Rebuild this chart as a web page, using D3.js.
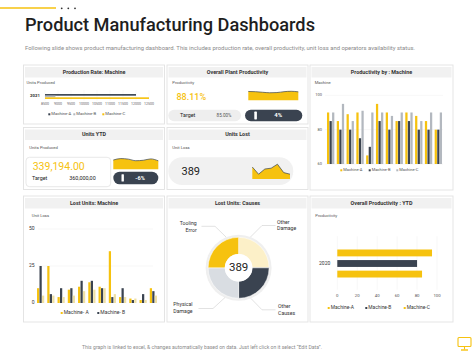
<!DOCTYPE html>
<html><head><meta charset="utf-8">
<script src="https://cdn.jsdelivr.net/npm/d3@7"></script>
<style>
html,body{margin:0;padding:0;background:#fff;}
svg{display:block;font-family:Roboto,"Liberation Sans",sans-serif;}
</style></head><body>
<svg id="c" width="474" height="355"></svg>
<script>
// ---------------- data ----------------
const titleText = "Product Manufacturing Dashboards";
const subtitleText = "Following slide shows product manufacturing dashboard. This includes production rate, overall productivity, unit loss and operators availability status.";
const footerText = "This graph is linked to excel, & changes automatically based on data. Just left click on it select \u201cEdit Data\u201d.";

const machines = ["Machine-A", "Machine-B", "Machine-C"];

const rateYear = ["2021"];
const rateValues = [12000, 8900, 12500];
const rateTicks = [8500, 9000, 9500, 10000, 10500, 11000, 11500, 12000, 12500];

const plantValue = "88.11%";
const plantTarget = "85.00%";
const plantDelta = "4%";
const plantTrend = [9.0, 8.8, 8.2, 7.7, 7.9, 8.8, 9.2, 8.6];

const ytdValue = "339,194.00";
const ytdTarget = "360,000,00";
const ytdDelta = "-6%";
const ytdTrend = [8.2, 9.5, 9.0, 7.6, 8.0, 9.2, 7.5];

const lostTotal = "389";
const lostTrend = [15, 6, 12.5, 13.5, 18.5, 8, 6];

const groups = ["1", "2", "3", "4", "5", "6", "7", "8", "9", "10", "11", "12"];
const prodA = [90, 85, 89, 90, 65, 95, 90, 85, 90, 88, 85, 80];
const prodB = [85, 80, 80, 75, 70, 85, 80, 85, 85, 80, 80, 80];
const prodC = [90, 95, 85, 91, 90, 90, 88, 90, 90, 85, 90, 90];
const prodTicks = [60, 80, 100];

const lostA = [10, 25, 4, 9, 11, 14, 11, 35, 4, 3, 2, 10];
const lostB = [25, 6, 10, 10, 15, 15, 10, 4, 10, 2, 6, 8];
const lostC = [5, 5, 4, 5, 8, 9, 10, 6, 4, 3, 2, 5];
const lostTicks = [0, 25, 50];
const lostLegend = ["Machine- A", "Machine- B"];

const causes = ["Other Damage", "Other Causes", "Physical Damage", "Tooling Error"];
const causeValues = [25, 25, 25, 25];

const ytdYear = ["2020"];
const ytdProd = [95, 80, 85];
const ytdTicks = [0, 20, 40, 60, 80, 100];

// ---------------- styles ----------------
const YEL = "#f6c20f", DARK = "#3a4350", GRAY = "#b3b8bf", CREAM = "#fcf0c8",
      PALE = "#efe0a4", LGRAY = "#d9dde2", TXT = "#333";

const svg = d3.select("#c");

// header decoration
svg.append("line").attr("x1", 0).attr("x2", 56).attr("y1", 8).attr("y2", 8)
  .attr("stroke", YEL).attr("stroke-width", 1.6);
[61.7, 68.3, 75].forEach(x => svg.append("circle").attr("cx", x).attr("cy", 8.3).attr("r", 0.9).attr("fill", "#333"));

svg.append("text").attr("x", 25).attr("y", 30.5).text(titleText)
  .attr("font-size", 17.5).attr("font-weight", 500).attr("fill", "#1e1e1e")
  .attr("textLength", 290).attr("lengthAdjust", "spacingAndGlyphs");
svg.append("text").attr("x", 25).attr("y", 49.5).text(subtitleText)
  .attr("font-size", 5.3).attr("fill", "#8a8a8a")
  .attr("textLength", 390).attr("lengthAdjust", "spacingAndGlyphs");
svg.append("text").attr("x", 82).attr("y", 348.5).text(footerText)
  .attr("font-size", 4.8).attr("fill", "#8a8a8a")
  .attr("textLength", 240).attr("lengthAdjust", "spacingAndGlyphs");

// monitor icon
const ic = svg.append("g").attr("stroke", YEL).attr("fill", "none");
ic.append("rect").attr("x", 458).attr("y", 337.5).attr("width", 13).attr("height", 9).attr("rx", 1).attr("stroke-width", 1.1);
ic.append("line").attr("x1", 464.5).attr("x2", 464.5).attr("y1", 346.5).attr("y2", 349.5).attr("stroke-width", 1.1);
ic.append("line").attr("x1", 461).attr("x2", 468).attr("y1", 350).attr("y2", 350).attr("stroke-width", 1.4);

// panels
function panel(x, y, w, h, title) {
  svg.append("rect").attr("x", x).attr("y", y).attr("width", w).attr("height", h)
    .attr("fill", "#fff").attr("stroke", "#e2e2e2").attr("stroke-width", 0.9);
  svg.append("rect").attr("x", x + 1.5).attr("y", y + 2).attr("width", w - 3).attr("height", 10.5)
    .attr("fill", "#f1f1f1");
  svg.append("text").attr("x", x + w / 2).attr("y", y + 7.3).attr("text-anchor", "middle")
    .attr("dominant-baseline", "middle").attr("font-size", 5.4).attr("font-weight", 700)
    .attr("fill", TXT).text(title);
}
function small(x, y, t, size, anchor, color, weight) {
  return svg.append("text").attr("x", x).attr("y", y).text(t)
    .attr("font-size", size || 4.3).attr("fill", color || "#555")
    .attr("text-anchor", anchor || "start").attr("dominant-baseline", "middle")
    .attr("font-weight", weight || 400);
}
function legend(items, colors, xs, y, size, color) {
  items.forEach((t, i) => {
    svg.append("rect").attr("x", xs[i] - 1).attr("y", y - 1).attr("width", 2).attr("height", 2).attr("fill", colors[i]);
    small(xs[i] + 2, y, t, size, "start", color);
  });
}

panel(23.5, 65, 141, 59, "Production Rate: Machine");
panel(167, 65, 141, 59, "Overall Plant Productivity");
panel(310, 65, 143, 125, "Productivity by : Machine");
panel(23.5, 127.5, 141, 62, "Units YTD");
panel(167, 127.5, 141, 62, "Units Lost");
panel(23.5, 196, 141, 126, "Lost Units: Machine");
panel(167, 196, 141, 126, "Lost Units: Causes");
panel(310, 196, 143, 126, "Overall Productivity : YTD");

// ---- Production rate ----
small(26.5, 82.7, "Units Produced", 4.2);
{
  const x = d3.scaleLinear().domain([8500, 12500]).range([45, 149]);
  const y0 = d3.scaleBand().domain(rateYear).range([93.5, 99.5]).padding(0.1);
  const y1 = d3.scaleBand().domain(machines).range([0, y0.bandwidth()]);
  const cols = [DARK, GRAY, YEL];
  rateTicks.forEach(t => svg.append("line").attr("x1", x(t)).attr("x2", x(t)).attr("y1", 90).attr("y2", 101)
    .attr("stroke", "#f0f0f0").attr("stroke-width", 0.5));
  machines.forEach((m, i) => {
    svg.append("rect").attr("x", x(8500)).attr("y", y0("2021") + y1(m))
      .attr("width", x(rateValues[i]) - x(8500)).attr("height", y1.bandwidth()).attr("fill", cols[i]);
  });
  small(30, 96.3, "2021", 4.3, "start", "#333", 700);
  rateTicks.forEach(t => small(x(t), 104.3, String(t), 3.6, "middle", "#666"));
  legend(machines, cols, [49.3, 74.3, 103.3], 114.3, 4.2, "#555");
}

// ---- Overall plant productivity ----
small(172.3, 83, "Productivity", 4.2);
small(176.5, 98, plantValue, 9, "start", YEL, 500);
{
  const x = d3.scaleLinear().domain([0, plantTrend.length - 1]).range([248.3, 298.3]);
  const y = d3.scaleLinear().domain([0, 10]).range([100.3, 90.5]);
  svg.append("path").datum(plantTrend).attr("fill", YEL)
    .attr("d", d3.area().x((d, i) => x(i)).y0(y(0)).y1(d => y(d)).curve(d3.curveMonotoneX));
  svg.append("path").datum(plantTrend).attr("fill", "none").attr("stroke", DARK).attr("stroke-width", 0.7)
    .attr("d", d3.line().x((d, i) => x(i)).y(d => y(d)).curve(d3.curveMonotoneX));
}
svg.append("rect").attr("x", 168.3).attr("y", 109.7).attr("width", 72.7).attr("height", 11.6).attr("rx", 5.8).attr("fill", "#eeeeee");
small(187.7, 115.6, "Target", 5.4, "middle", "#222");
small(224, 115.6, plantTarget, 4.6, "middle", "#555");
svg.append("rect").attr("x", 245).attr("y", 109.7).attr("width", 57.3).attr("height", 11.6).attr("rx", 5.8).attr("fill", DARK);
svg.append("rect").attr("x", 254.3).attr("y", 111.6).attr("width", 2.6).attr("height", 7.8).attr("rx", 0.6).attr("fill", "#fff");
small(278.3, 115.6, plantDelta, 6, "middle", "#fff", 700);

// ---- Units YTD ----
small(29.3, 147.7, "Units Produced", 4.2);
svg.append("rect").attr("x", 26).attr("y", 157.3).attr("width", 84.7).attr("height", 29.4).attr("rx", 3.5)
  .attr("fill", "#fff").attr("stroke", "#dedede").attr("stroke-width", 0.7);
small(32.7, 167.5, ytdValue, 10.5, "start", YEL, 400);
small(32, 178.6, "Target", 5.4, "start", "#222");
small(69.3, 178.6, ytdTarget, 5.4, "start", "#222");
{
  const x = d3.scaleLinear().domain([0, ytdTrend.length - 1]).range([113.3, 158.3]);
  const y = d3.scaleLinear().domain([0, 10]).range([169.3, 158]);
  svg.append("path").datum(ytdTrend).attr("fill", YEL)
    .attr("d", d3.area().x((d, i) => x(i)).y0(y(0)).y1(d => y(d)).curve(d3.curveMonotoneX));
  svg.append("path").datum(ytdTrend).attr("fill", "none").attr("stroke", DARK).attr("stroke-width", 0.7)
    .attr("d", d3.line().x((d, i) => x(i)).y(d => y(d)).curve(d3.curveMonotoneX));
}
svg.append("rect").attr("x", 113.3).attr("y", 171.7).attr("width", 45).attr("height", 12.6).attr("rx", 6.3).attr("fill", DARK);
svg.append("rect").attr("x", 121.5).attr("y", 174.2).attr("width", 2.4).attr("height", 7.2).attr("rx", 0.5).attr("fill", "#fff");
small(140, 178.2, ytdDelta, 5.6, "middle", "#fff", 700);

// ---- Units lost ----
small(172.3, 148.3, "Unit Loss", 4.2);
svg.append("rect").attr("x", 168.3).attr("y", 157.3).attr("width", 125).attr("height", 27.7).attr("rx", 13.8).attr("fill", "#f1f1f1");
small(181.5, 172, lostTotal, 11, "start", "#222");
{
  const x = d3.scaleLinear().domain([0, lostTrend.length - 1]).range([252.3, 290]);
  const y = d3.scaleLinear().domain([0, 20]).range([179, 163]);
  svg.append("path").datum(lostTrend).attr("fill", YEL)
    .attr("d", d3.area().x((d, i) => x(i)).y0(y(0)).y1(d => y(d)));
  svg.append("path").datum(lostTrend).attr("fill", "none").attr("stroke", DARK).attr("stroke-width", 0.7)
    .attr("d", d3.line().x((d, i) => x(i)).y(d => y(d)));
}

// ---- Productivity by machine ----
small(314.7, 82.7, "Machine", 4.2);
{
  const x0 = d3.scaleBand().domain(groups).range([326, 443]).paddingInner(0.25).paddingOuter(0.1);
  const x1 = d3.scaleBand().domain(machines).range([0, x0.bandwidth()]).paddingInner(0.12);
  const y = d3.scaleLinear().domain([60, 100]).range([164, 95.3]);
  const series = [prodA, prodB, prodC], cols = [YEL, DARK, GRAY];
  prodTicks.forEach(t => {
    svg.append("line").attr("x1", 325).attr("x2", 443).attr("y1", y(t)).attr("y2", y(t))
      .attr("stroke", "#eeeeee").attr("stroke-width", 0.5);
    small(322, y(t), String(t), 4, "end", "#555");
  });
  groups.forEach((g, gi) => machines.forEach((m, mi) => {
    const v = series[mi][gi];
    svg.append("rect").attr("x", x0(g) + x1(m)).attr("y", y(v)).attr("width", x1.bandwidth())
      .attr("height", y(60) - y(v)).attr("fill", cols[mi]);
  }));
  legend(machines, cols, [341.3, 369.7, 397.3], 170.3, 4, "#555");
}

// ---- Lost units by machine ----
small(31.7, 216.3, "Unit Loss", 4.2);
{
  const x0 = d3.scaleBand().domain(groups).range([36, 158]).paddingInner(0.3).paddingOuter(0.1);
  const x1 = d3.scaleBand().domain(["A", "B", "C"]).range([0, x0.bandwidth()]).paddingInner(0.1);
  const y = d3.scaleLinear().domain([0, 50]).range([303, 229]);
  const series = [lostA, lostB, lostC], cols = [YEL, DARK, PALE];
  lostTicks.forEach(t => {
    if (t > 0) svg.append("line").attr("x1", 38).attr("x2", 153).attr("y1", y(t)).attr("y2", y(t))
      .attr("stroke", "#eeeeee").attr("stroke-width", 0.5);
    small(34.5, y(t), String(t), 5, "end", "#333");
  });
  groups.forEach((g, gi) => ["A", "B", "C"].forEach((k, ki) => {
    const v = series[ki][gi];
    svg.append("rect").attr("x", x0(g) + x1(k)).attr("y", y(v)).attr("width", x1.bandwidth())
      .attr("height", y(0) - y(v)).attr("fill", cols[ki]);
  }));
  legend(lostLegend, [YEL, DARK], [61.7, 98.3], 313, 5, "#333");
}

// ---- Lost units causes (donut) ----
{
  const cx = 238.6, cy = 267.8;
  const g = svg.append("g").attr("transform", `translate(${cx},${cy})`);
  g.append("circle").attr("r", 33).attr("fill", "#efefef");
  const pie = d3.pie().sort(null).value(d => d);
  const arc = d3.arc().innerRadius(13.5).outerRadius(30.5);
  const cols = [CREAM, DARK, LGRAY, YEL];
  g.selectAll("path").data(pie(causeValues)).join("path")
    .attr("d", arc).attr("fill", (d, i) => cols[i]).attr("stroke", "#fff").attr("stroke-width", 0.5);
  g.append("circle").attr("r", 13.8).attr("fill", "#fff");
  g.append("text").attr("text-anchor", "middle").attr("dominant-baseline", "middle").attr("y", 0.5)
    .attr("font-size", 11.5).attr("fill", "#222").text(lostTotal);

  const lc = "#cfcfcf";
  const lines = [
    [[275.5, 225.5], [262, 225.5], [250.5, 237]],
    [[275.5, 309.8], [262, 309.8], [251, 298.5]],
    [[198.5, 308.5], [213, 308.5], [225, 297.5]],
    [[201.5, 226.3], [215, 226.3], [226, 237]]
  ];
  lines.forEach(p => svg.append("path").attr("d", d3.line()(p)).attr("fill", "none")
    .attr("stroke", lc).attr("stroke-width", 0.6));
  const lab = [
    [["Other", "Damage"], 277, 222.3, "start"],
    [["Other", "Causes"], 278, 307, "start"],
    [["Physical", "Damage"], 173.3, 304.7, "start"],
    [["Tooling", "Error"], 196.7, 224, "end"]
  ];
  lab.forEach(([t, x, y, a]) => t.forEach((s, k) => small(x, y + k * 6.5, s, 5.2, a, "#333")));
}

// ---- Overall productivity YTD ----
small(315.3, 215.7, "Productivity", 4.2);
{
  const x = d3.scaleLinear().domain([0, 100]).range([337.3, 437]);
  const y0 = d3.scaleBand().domain(ytdYear).range([249.5, 277.5]);
  const y1 = d3.scaleBand().domain(machines).range([0, y0.bandwidth()]).paddingInner(0.35);
  const cols = [YEL, DARK, YEL];
  ytdTicks.forEach(t => {
    svg.append("line").attr("x1", x(t)).attr("x2", x(t)).attr("y1", 236.3).attr("y2", 289.7)
      .attr("stroke", "#eeeeee").attr("stroke-width", 0.5);
    small(x(t), 295.7, String(t), 4.3, "middle", "#555");
  });
  machines.forEach((m, i) => svg.append("rect").attr("x", x(0)).attr("y", y0("2020") + y1(m))
    .attr("width", x(ytdProd[i]) - x(0)).attr("height", y1.bandwidth()).attr("fill", cols[i]));
  small(324.7, 263.7, "2020", 5, "middle", "#333");
  legend(machines, cols, [328.7, 366.3, 404.7], 308, 4.9, "#333");
}
</script>
</body></html>
